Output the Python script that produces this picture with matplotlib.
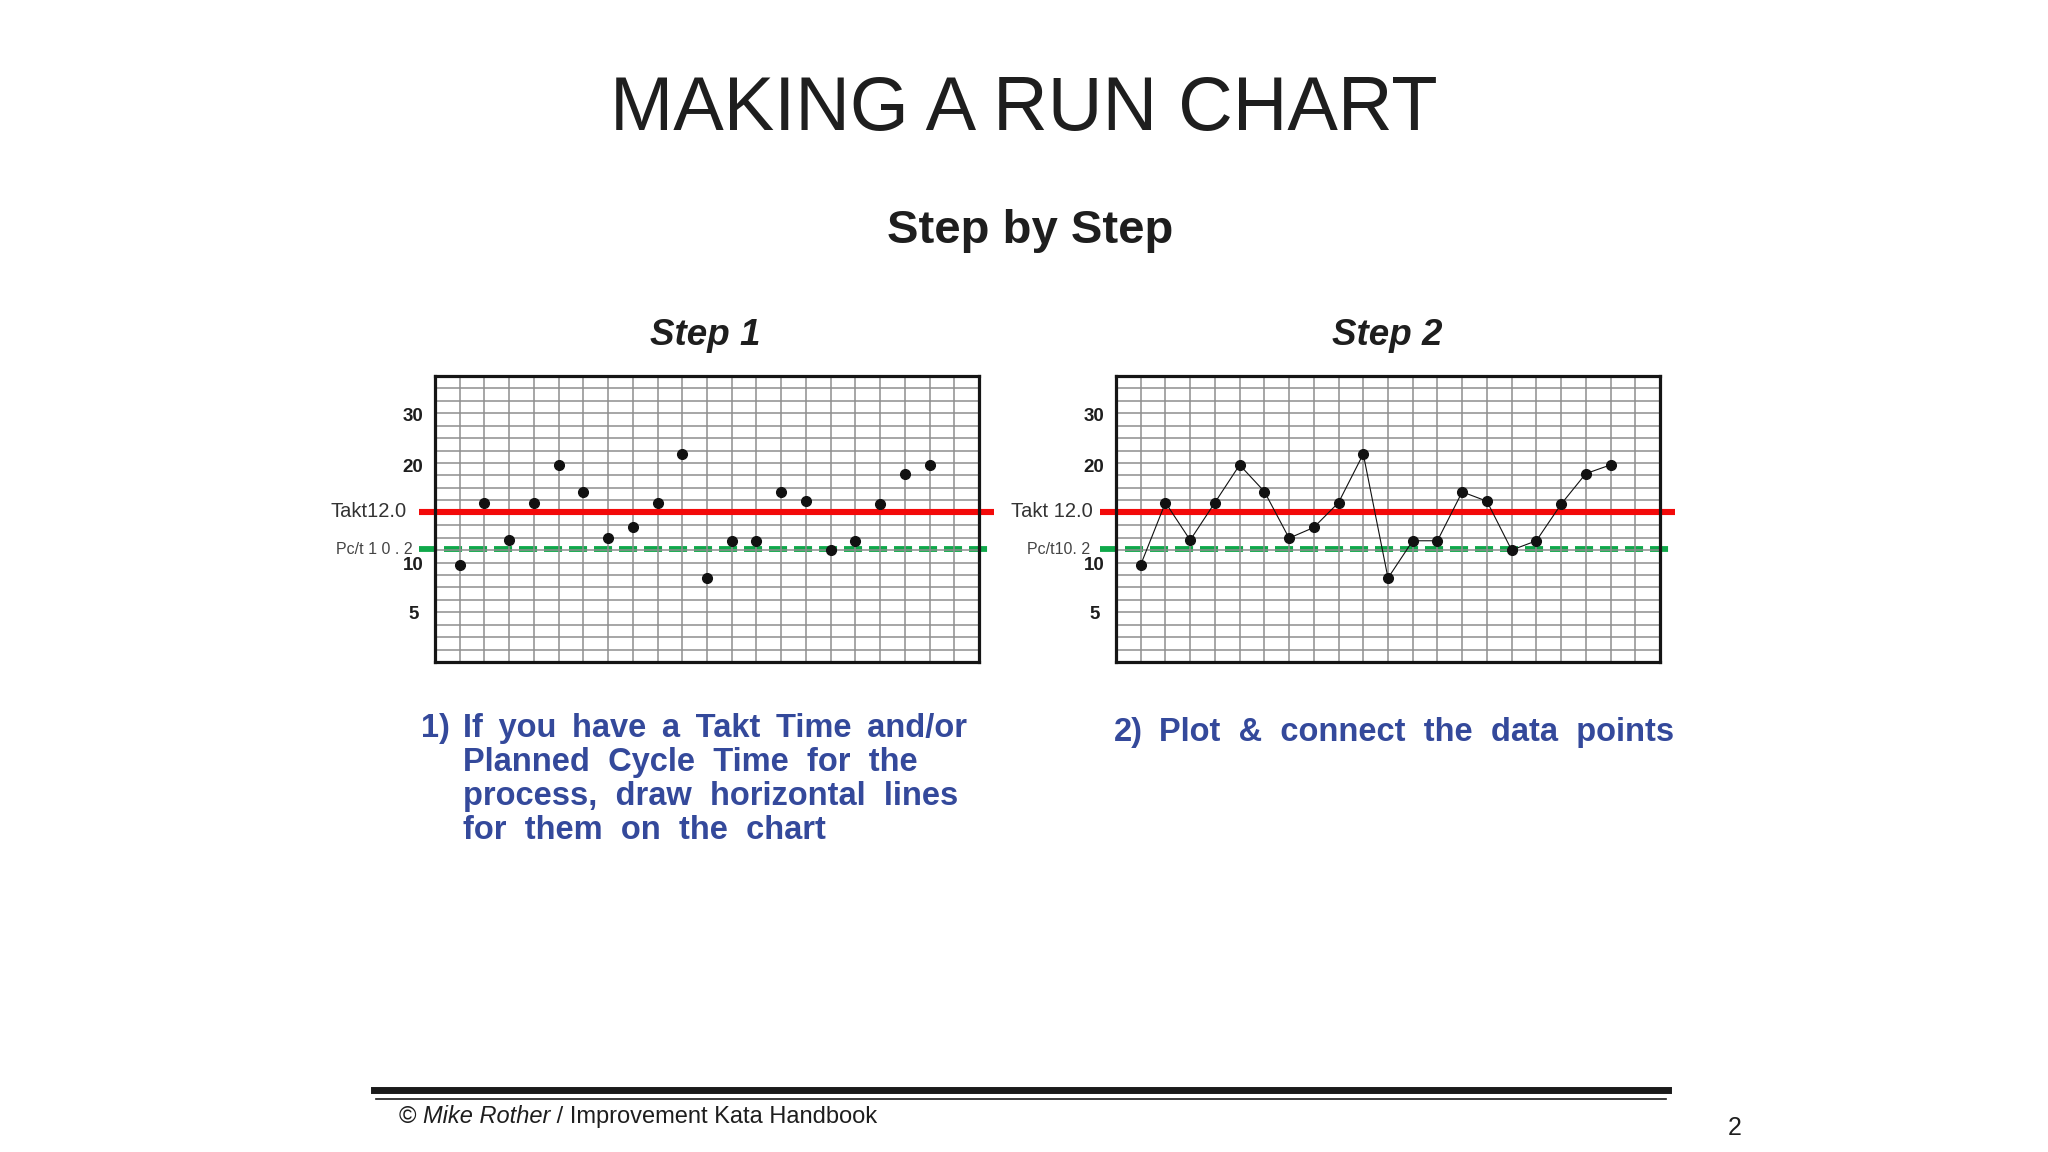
import matplotlib
matplotlib.use("Agg")
import matplotlib.pyplot as plt
from matplotlib.transforms import blended_transform_factory

plt.rcParams['font.family'] = ['Liberation Sans', 'DejaVu Sans']
plt.rcParams['lines.scale_dashes'] = False

# data (y in grid rows counted from the bottom of the chart frame)
runs = list(range(1, 21))
run_rows = [7.82, 12.82, 9.80, 12.82, 15.85, 13.71, 9.96, 10.82, 12.82, 16.73,
            6.75, 9.75, 9.75, 13.68, 12.93, 9.0, 9.75, 12.69, 15.15, 15.85]
n_cols, n_rows = 22, 23
tick_rows = [19.87, 15.72, 7.9, 3.94]
tick_labels = ['30', '20', '10', '5']
takt_row = 12.1
pct_row = 9.08
takt_labels = ['Takt12.0', 'Takt 12.0']
pct_labels = ['Pc/t 1 0 . 2', 'Pc/t10. 2']
step_titles = ['Step 1', 'Step 2']
sp = ' \u2009'
note_numbers = ['1)', '2)']
step_notes = [
    [sp.join(['If', 'you', 'have', 'a', 'Takt', 'Time', 'and/or']),
     'Planned  Cycle  Time  for  the',
     'process,  draw  horizontal  lines',
     'for  them  on  the  chart'],
    ['Plot  &  connect  the  data  points'],
]

W, H = 2048, 1152
fig = plt.figure(figsize=(W / 100, H / 100), dpi=100)
fig.patch.set_facecolor('white')


def fx(px):
    return px / W


def fy(py):
    return 1 - py / H


blue = '#34499b'
dark = '#1e1e1e'

# titles
fig.text(fx(1024), fy(130), 'MAKING A RUN CHART', fontsize=54.5, color=dark,
         ha='center', va='baseline')
fig.text(fx(1030), fy(243), 'Step by Step', fontsize=34, fontweight='bold',
         color=dark, ha='center', va='baseline')

chart_left = [435, 1116]
chart_top, chart_bottom = 376, 662
chart_w = 544
title_x = [705, 1387]

for k in range(2):
    ax = fig.add_axes([fx(chart_left[k]), fy(chart_bottom), fx(chart_w),
                       (chart_bottom - chart_top) / H])
    ax.set_xlim(0, n_cols)
    ax.set_ylim(0, n_rows)
    ax.set_xticks([])
    ax.set_yticks([])
    for s in ax.spines.values():
        s.set_linewidth(2.3)
        s.set_color('#151515')
        s.set_zorder(6)
    ax.vlines(range(1, n_cols), 0, n_rows, color='#8e8e8e', lw=1.1, zorder=2)
    ax.hlines(range(1, n_rows), 0, n_cols, color='#8e8e8e', lw=1.1, zorder=2)

    # takt and planned cycle time lines
    ax.plot([-0.65, n_cols + 0.6], [pct_row, pct_row], color='#0fa84a', lw=4.2,
            dashes=(13, 5), dash_capstyle='butt', clip_on=False, zorder=1.5)
    ax.plot([-0.65, n_cols + 0.6], [takt_row, takt_row], color='#f30a0a',
            lw=4.4, solid_capstyle='butt', clip_on=False, zorder=3)

    if k == 1:
        ax.plot(runs, run_rows, color='#111111', lw=0.8, zorder=4)
    ax.plot(runs, run_rows, 'o', color='#111111', ms=7, zorder=5)

    tr = blended_transform_factory(ax.transAxes, ax.transData)
    for r, lab in zip(tick_rows, tick_labels):
        ax.text(-0.04, r - 0.1, lab, transform=tr, ha='center', va='center',
                fontsize=13.5, fontweight='bold', color=dark)
    ax.text(-0.052 if k == 0 else -0.042, takt_row, takt_labels[k],
            transform=tr, ha='right', va='center', fontsize=14.5,
            color='#333333')
    ax.text(-0.042 if k == 0 else -0.048, pct_row, pct_labels[k], transform=tr,
            ha='right', va='center', fontsize=11.5, color='#444444')

    fig.text(fx(title_x[k]), fy(345), step_titles[k], fontsize=26.5,
             fontweight='bold', style='italic', color=dark, ha='center',
             va='baseline')

# instructions
note_style = dict(fontsize=23.5, fontweight='bold', color=blue, ha='left',
                  va='baseline')
fig.text(fx(421), fy(737), note_numbers[0], **note_style)
for i, line in enumerate(step_notes[0]):
    fig.text(fx(463), fy(737 + 34 * i), line, **note_style)
fig.text(fx(1114), fy(741), note_numbers[1], **note_style)
fig.text(fx(1159), fy(741), step_notes[1][0], **note_style)

# footer
fig.add_artist(plt.Line2D([fx(374), fx(1668)], [fy(1089.5), fy(1089.5)],
                          color='#1a1a1a', lw=5))
fig.add_artist(plt.Line2D([fx(376), fx(1666)], [fy(1099), fy(1099)],
                          color='#1a1a1a', lw=1.2))
t1 = fig.text(fx(399), fy(1123), '© ', fontsize=17, color=dark, va='baseline')
a2 = fig.axes[0].annotate('Mike Rother', xy=(1, 0), xycoords=t1, fontsize=17,
                          color=dark, style='italic', va='bottom',
                          annotation_clip=False)
fig.axes[0].annotate(' / Improvement Kata Handbook', xy=(1, 0), xycoords=a2,
                     fontsize=17, color=dark, va='bottom',
                     annotation_clip=False)
fig.text(fx(1735), fy(1135), '2', fontsize=18, color=dark, ha='center',
         va='baseline')

fig.savefig('out.png', dpi=100, facecolor='white')
